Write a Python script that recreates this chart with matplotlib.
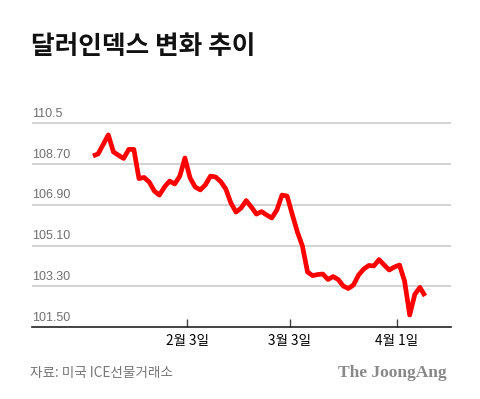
import numpy as np
import matplotlib
matplotlib.use('Agg')
import matplotlib.pyplot as plt

plt.rcParams['font.family'] = ['Noto Sans CJK KR', 'DejaVu Sans']

# 달러인덱스, 거래일별 (2025-01 ~ 2025-04)
dxy = [109.06, 109.15, 109.57, 109.99, 109.24, 109.09, 108.95, 109.35, 109.35, 108.06,
       108.11, 107.91, 107.51, 107.33, 107.69, 107.95, 107.82, 108.17, 108.97, 108.09,
       107.69, 107.56, 107.78, 108.17, 108.13, 107.93, 107.60, 106.98, 106.58, 106.76,
       107.09, 106.80, 106.49, 106.60, 106.45, 106.32, 106.67, 107.33, 107.29, 106.49,
       105.71, 105.08, 103.93, 103.77, 103.82, 103.84, 103.60, 103.73, 103.60, 103.31,
       103.20, 103.36, 103.80, 104.06, 104.22, 104.20, 104.48, 104.24, 104.02, 104.15,
       104.24, 103.53, 102.03, 102.94, 103.25, 102.87]

y_ticks = [101.5, 103.3, 105.1, 106.9, 108.7, 110.5]
y_labels = ['101.50', '103.30', '105.10', '106.90', '108.70', '110.5']
x_ticks = [18.5, 38.5, 59.5]
x_labels = ['2월 3일', '3월 3일', '4월 1일']


def main():
    fig = plt.figure(figsize=(4.8, 3.99), dpi=100)
    ax = fig.add_axes([32 / 480, 72 / 399, 418.7 / 480, 212 / 399])

    x = np.arange(len(dxy))
    ax.plot(x, dxy, color='#ff0000', lw=3.4, solid_joinstyle='round',
            solid_capstyle='butt', zorder=3)

    ax.set_xlim(-11.94, 70.03)
    ax.set_ylim(101.5, 110.87)

    for v in y_ticks[1:]:
        ax.axhline(v, color='#cccccc', lw=1.2, zorder=1)
    for v, lab in zip(y_ticks, y_labels):
        ax.text(0, v + 0.15, lab, transform=ax.get_yaxis_transform(),
                ha='left', va='bottom', fontsize=9, color='#707070',
                family='Liberation Sans')

    ax.set_yticks([])
    ax.set_xticks(x_ticks)
    ax.set_xticklabels(x_labels, fontsize=9.8, color='#000000')
    ax.tick_params(axis='x', direction='in', length=6, width=1,
                   color='#444444', pad=5)

    for s in ['top', 'left', 'right']:
        ax.spines[s].set_visible(False)
    ax.spines['bottom'].set_color('#222222')
    ax.spines['bottom'].set_linewidth(1.2)

    fig.text(31 / 480, 1 - 46 / 399, '달러인덱스 변화 추이', fontsize=18.5,
             fontweight='black', ha='left', va='center', color='#111111')
    fig.text(30 / 480, 1 - 373 / 399, '자료: 미국 ICE선물거래소', fontsize=9.8,
             ha='left', va='center', color='#777777')
    fig.text(447 / 480, 1 - 373 / 399, 'The JoongAng', fontsize=12.5,
             fontweight='bold', ha='right', va='center', color='#888888',
             family='Liberation Serif')

    fig.savefig('out.png', dpi=100)


if __name__ == '__main__':
    main()
